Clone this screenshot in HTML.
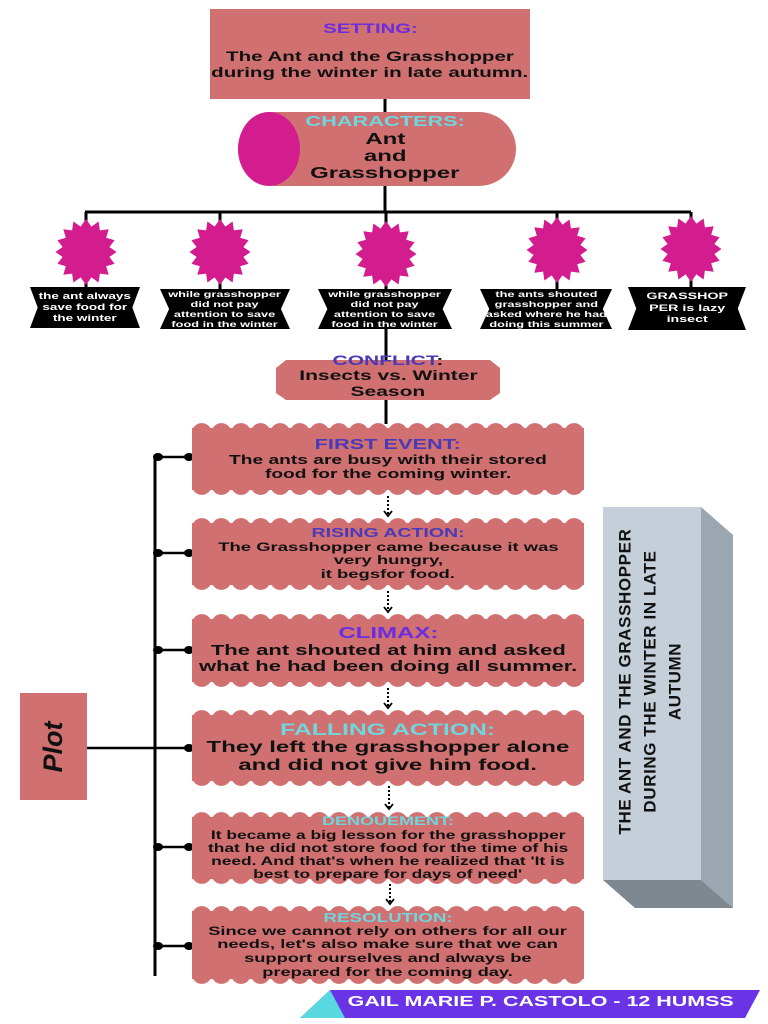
<!DOCTYPE html>
<html><head><meta charset="utf-8"><style>
*{margin:0;padding:0;box-sizing:border-box}
body{width:768px;height:1024px;background:#fff;position:relative;overflow:hidden;font-family:"Liberation Sans",sans-serif;font-weight:bold;color:#111}
.a{position:absolute}
.c{text-align:center}
.s{display:inline-block;transform:scaleX(1.5);white-space:nowrap}
.ev{position:absolute;left:192px;width:392px;
background:
radial-gradient(circle at 9.8px 10px,#d07070 9.6px,transparent 10.2px) 0 0/19.6px 20px repeat-x,
radial-gradient(circle at 9.8px 10px,#d07070 9.6px,transparent 10.2px) 0 100%/19.6px 20px repeat-x,
linear-gradient(#d07070,#d07070) 0 5px/100% calc(100% - 10px) no-repeat;
display:flex;flex-direction:column;align-items:center;justify-content:center;text-align:center;line-height:1.12;white-space:nowrap}
.bw{position:absolute;color:#fff;font-size:9px;text-align:center;line-height:1.2;display:flex;align-items:center;justify-content:center;background:#000;white-space:nowrap;
clip-path:polygon(0 0,100% 0,93% 50%,100% 100%,0 100%,7% 50%)}
</style></head><body>
<svg class="a" style="left:0;top:0" width="768" height="1024">
<rect x="210" y="9" width="320" height="90" fill="#d07070"/>
<g stroke="#000" stroke-width="3" fill="none">
<line x1="385" y1="99" x2="385" y2="112"/>
<line x1="385" y1="186" x2="385" y2="212"/>
<line x1="85" y1="212" x2="691" y2="212"/>
<line x1="86" y1="212" x2="86" y2="290"/>
<line x1="220" y1="212" x2="220" y2="290"/>
<line x1="386" y1="212" x2="386" y2="362"/>
<line x1="557" y1="212" x2="557" y2="290"/>
<line x1="691" y1="212" x2="691" y2="290"/>
<line x1="386" y1="400" x2="386" y2="424"/>
<line x1="155" y1="457" x2="155" y2="976"/>
<line x1="87" y1="748" x2="190" y2="748" stroke-width="2.5"/>
</g>
<g stroke="#000" stroke-width="2.5">
<line x1="158" y1="457" x2="189" y2="457"/>
<line x1="158" y1="553" x2="189" y2="553"/>
<line x1="158" y1="650" x2="189" y2="650"/>
<line x1="158" y1="847" x2="189" y2="847"/>
<line x1="158" y1="946" x2="189" y2="946"/>
</g>
<g fill="#000">
<ellipse cx="158" cy="457" rx="5" ry="4"/><ellipse cx="189" cy="457" rx="5" ry="4"/>
<ellipse cx="158" cy="553" rx="5" ry="4"/><ellipse cx="189" cy="553" rx="5" ry="4"/>
<ellipse cx="158" cy="650" rx="5" ry="4"/><ellipse cx="189" cy="650" rx="5" ry="4"/>
<ellipse cx="189" cy="748" rx="5" ry="4"/>
<ellipse cx="158" cy="847" rx="5" ry="4"/><ellipse cx="189" cy="847" rx="5" ry="4"/>
<ellipse cx="158" cy="946" rx="5" ry="4"/><ellipse cx="189" cy="946" rx="5" ry="4"/>
</g>
<g stroke="#000" stroke-width="2" stroke-dasharray="2,2" fill="none">
<line x1="388" y1="496" x2="388" y2="515"/>
<line x1="388" y1="591" x2="388" y2="611"/>
<line x1="388" y1="688" x2="388" y2="707"/>
<line x1="389" y1="786" x2="389" y2="808"/>
<line x1="390" y1="884" x2="390" y2="903"/>
</g>
<g stroke="#000" stroke-width="1.8" fill="none">
<polyline points="384,511 388,516 392,511"/>
<polyline points="384,607 388,612 392,607"/>
<polyline points="384,703 388,708 392,703"/>
<polyline points="385,804 389,809 393,804"/>
<polyline points="386,899 390,904 394,899"/>
</g>
<defs><polygon id="st" fill="#d31c8e" points="0.0,-33.0 5.4,-25.4 12.6,-30.5 13.9,-21.6 22.7,-22.7 20.2,-14.3 28.6,-11.8 23.4,-5.0 30.5,0.0 23.4,5.0 28.6,11.8 20.2,14.3 22.7,22.7 13.9,21.6 12.6,30.5 5.4,25.4 0.0,33.0 -5.4,25.4 -12.6,30.5 -13.9,21.6 -22.7,22.7 -20.2,14.3 -28.6,11.8 -23.4,5.0 -30.5,0.0 -23.4,-5.0 -28.6,-11.8 -20.2,-14.3 -22.7,-22.7 -13.9,-21.6 -12.6,-30.5 -5.4,-25.4"/></defs>
<use href="#st" x="86" y="252"/>
<use href="#st" x="220" y="252"/>
<use href="#st" x="386" y="254"/>
<use href="#st" x="557" y="250"/>
<use href="#st" x="691" y="249"/>
<polygon points="286,360 490,360 500,368 500,393 490,400 286,400 276,393 276,368" fill="#d07070"/>
<polygon points="603,507 701,507 733,535 733,908 701,880 603,880" fill="#c5cfd9"/>
<polygon points="701,507 733,535 733,908 701,880" fill="#9ba6b1"/>
<polygon points="603,880 701,880 733,908 635,908" fill="#7e8890"/>
<polygon points="330,990 760,990 745,1018 300,1018" fill="#6a34e6"/>
<polygon points="330,990 345,1018 300,1018" fill="#5ad8e0"/>
<rect x="20" y="693" width="67" height="107" fill="#d07070"/>
</svg>

<div class="a c" style="left:210px;top:21px;width:320px">
<div style="color:#6a2ee0;font-size:13.5px"><span class="s">SETTING:</span></div>
<div style="font-size:13.7px;margin-top:13px;line-height:1.15"><span class="s">The Ant and the Grasshopper</span><br><span class="s">during the winter in late autumn.</span></div>
</div>
<div class="a" style="left:238px;top:112px;width:278px;height:74px;background:#d07070;border-radius:37px"></div>
<div class="a" style="left:238px;top:112px;width:62px;height:74px;background:#d31c8e;border-radius:50%"></div>
<div class="a c" style="left:290px;top:114px;width:190px;font-size:16px;line-height:17px">
<div style="color:#6fd6de;font-size:14.5px"><span class="s">CHARACTERS:</span></div><span class="s">Ant</span><br><span class="s">and</span><br><span class="s">Grasshopper</span></div>

<div class="bw" style="left:30px;top:287px;width:110px;height:41px"><span class="s">the ant always<br>save food for<br>the winter</span></div>
<div class="bw" style="left:160px;top:289px;width:130px;height:40px"><span class="s" style="font-size:8.5px">while grasshopper<br>did not pay<br>attention to save<br>food in the winter</span></div>
<div class="bw" style="left:318px;top:289px;width:134px;height:40px"><span class="s" style="font-size:8.5px">while grasshopper<br>did not pay<br>attention to save<br>food in the winter</span></div>
<div class="bw" style="left:480px;top:289px;width:132px;height:40px"><span class="s" style="font-size:8.5px">the ants shouted<br>grasshopper and<br>asked where he had<br>doing this summer</span></div>
<div class="bw" style="left:628px;top:287px;width:118px;height:43px"><span class="s" style="font-size:9.5px">GRASSHOP<br>PER is lazy<br>insect</span></div>

<div class="a c" style="left:276px;top:353px;width:224px;font-size:14px;line-height:1.1"><span class="s"><span style="color:#4a3ab8">CONFLICT</span>:</span><br><span class="s">Insects vs. Winter</span><br><span class="s">Season</span></div>

<div class="ev" style="top:423px;height:72px"><div style="color:#4a3ab8;font-size:14.5px"><span class="s">FIRST EVENT:</span></div><div style="font-size:12.8px"><span class="s">The ants are busy with their stored</span><br><span class="s">food for the coming winter.</span></div></div>
<div class="ev" style="top:518px;height:72px"><div style="color:#4a3ab8;font-size:13px"><span class="s">RISING ACTION:</span></div><div style="font-size:12.3px"><span class="s">The Grasshopper came because it was</span><br><span class="s">very hungry,</span><br><span class="s">it begsfor food.</span></div></div>
<div class="ev" style="top:614px;height:73px"><div style="color:#6a2ee0;font-size:16px"><span class="s">CLIMAX:</span></div><div style="font-size:14.7px"><span class="s">The ant shouted at him and asked</span><br><span class="s">what he had been doing all summer.</span></div></div>
<div class="ev" style="top:710px;height:76px"><div style="color:#6fd6de;font-size:16.5px"><span class="s">FALLING ACTION:</span></div><div style="font-size:16px"><span class="s">They left the grasshopper alone</span><br><span class="s">and did not give him food.</span></div></div>
<div class="ev" style="top:812px;height:72px"><div style="color:#6fd6de;font-size:12px"><span class="s">DENOUEMENT:</span></div><div style="font-size:11.6px"><span class="s">It became a big lesson for the grasshopper</span><br><span class="s">that he did not store food for the time of his</span><br><span class="s">need. And that's when he realized that 'It is</span><br><span class="s">best to prepare for days of need'</span></div></div>
<div class="ev" style="top:906px;height:78px"><div style="color:#6fd6de;font-size:12.5px"><span class="s">RESOLUTION:</span></div><div style="font-size:12.2px"><span class="s">Since we cannot rely on others for all our</span><br><span class="s">needs, let's also make sure that we can</span><br><span class="s">support ourselves and always be</span><br><span class="s">prepared for the coming day.</span></div></div>

<div class="a c" style="left:-7px;top:731px;width:120px;font-size:27px;font-style:italic;transform:rotate(-90deg);line-height:32px">Plot</div>
<div class="a c" style="left:455px;top:644px;width:390px;font-size:17px;letter-spacing:0.6px;line-height:25px;transform:rotate(-90deg);white-space:nowrap">THE ANT AND THE GRASSHOPPER<br>DURING THE WINTER IN LATE<br>AUTUMN</div>
<div class="a c" style="left:343px;top:994px;width:395px;color:#fff;font-size:14.3px"><span class="s">GAIL MARIE P. CASTOLO - 12 HUMSS</span></div>
</body></html>
